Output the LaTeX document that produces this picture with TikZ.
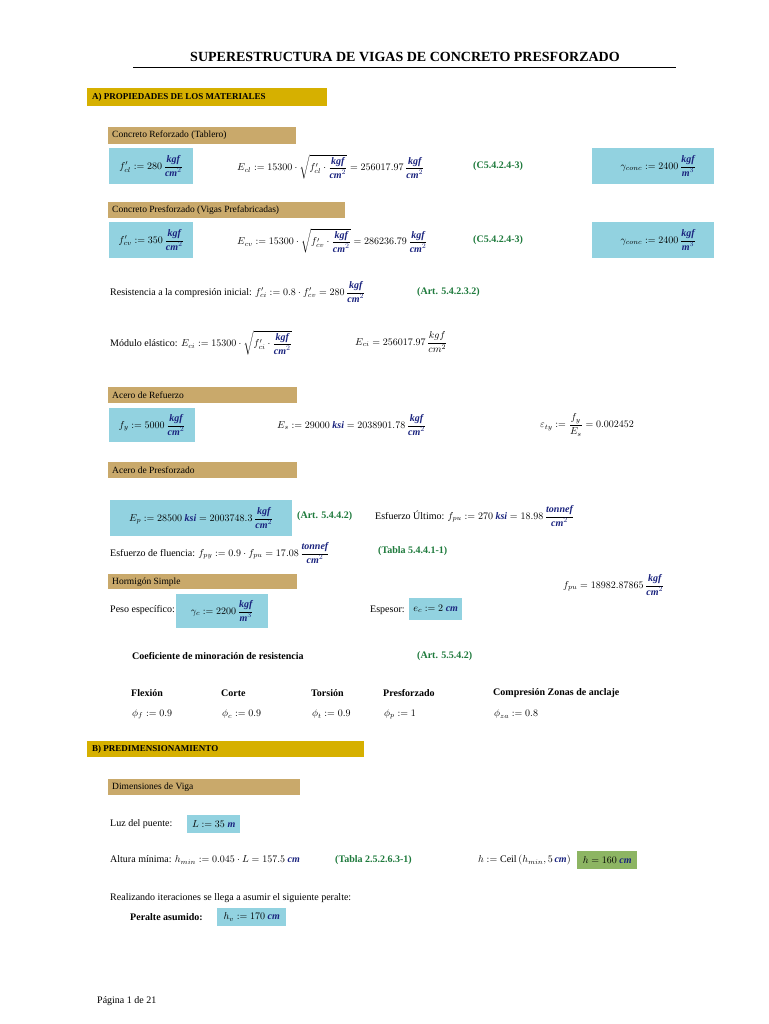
\documentclass[tikz,border=0pt]{standalone}
\usepackage{amsmath}
\usepackage{fontspec}
\setmainfont{Liberation Serif}
\definecolor{gold}{HTML}{D6B000}
\definecolor{tan}{HTML}{C9A96B}
\definecolor{bluebox}{HTML}{92D2E0}
\definecolor{greenbox}{HTML}{8DB563}
\definecolor{unitc}{HTML}{1A237E}
\definecolor{refc}{HTML}{1E7A3C}
\newcommand\un[1]{\text{\color{unitc}\bfseries\itshape #1}}
\newcommand\de{\mathrel{:=}}
\newcommand\fr[2]{\dfrac{\un{#1}}{\un{#2}}}
\newcommand\kc{\fr{kgf}{cm$^2$}}
\newcommand\km{\fr{kgf}{m$^3$}}
\newcommand\rf[1]{\textcolor{refc}{\bfseries #1}}
\begin{document}
\begin{tikzpicture}[x=1pt,y=-1pt,font=\fontsize{10}{12}\selectfont,
  txt/.style={anchor=west,inner sep=0pt},
  bb/.style={anchor=west,fill=bluebox,inner sep=2pt},
  gb/.style={anchor=west,fill=greenbox,inner sep=2pt}]
\useasboundingbox (0,0) rectangle (768,1024);
\fill[white] (0,0) rectangle (768,1024);
\node[inner sep=0pt,font=\fontsize{14}{16}\selectfont\bfseries] (title) at (405,57) {SUPERESTRUCTURA DE VIGAS DE CONCRETO PRESFORZADO};
\draw[line width=0.8pt] (133,67) -- (676,67);
% A
\fill[gold] (87,88) rectangle (327,106);
\node[txt,font=\fontsize{9}{10}\selectfont\bfseries] (A) at (92,97) {A) PROPIEDADES DE LOS MATERIALES};
\fill[tan] (108,127) rectangle (296,144);
\node[txt,font=\fontsize{9.5}{11}\selectfont] (s1) at (112,135) {Concreto Reforzado (Tablero)};
\node[bb,minimum width=84pt,minimum height=36pt] (fcl) at (109,166) {$f'_{cl}\de 280\,\kc$};
\node[txt] (Ecl) at (237,167) {$E_{cl}\de 15300\cdot\sqrt{f'_{cl}\cdot\kc}=256017.97\,\kc$};
\node[txt] (r1) at (473,166) {\rf{(C5.4.2.4-3)}};
\node[bb,minimum width=122pt,minimum height=36pt] (gc1) at (592,166) {\hspace*{10pt}$\gamma_{conc}\de 2400\,\km$};
\fill[tan] (108,202) rectangle (345,218);
\node[txt,font=\fontsize{9.5}{11}\selectfont] (s2) at (112,210) {Concreto Presforzado (Vigas Prefabricadas)};
\node[bb,minimum width=84pt,minimum height=36pt] (fcv) at (109,240) {$f'_{cv}\de 350\,\kc$};
\node[txt] (Ecv) at (237,241) {$E_{cv}\de 15300\cdot\sqrt{f'_{cv}\cdot\kc}=286236.79\,\kc$};
\node[txt] (r2) at (473,240) {\rf{(C5.4.2.4-3)}};
\node[bb,minimum width=122pt,minimum height=36pt] (gc2) at (592,240) {\hspace*{10pt}$\gamma_{conc}\de 2400\,\km$};
\node[txt] (res) at (110,292) {Resistencia a la compresión inicial: $f'_{ci}\de 0.8\cdot f'_{cv}=280\,\kc$};
\node[txt] (r3) at (417,292) {\rf{(Art. 5.4.2.3.2)}};
\node[txt] (mod) at (110,343) {Módulo elástico: $E_{ci}\de 15300\cdot\sqrt{f'_{ci}\cdot\kc}$};
\node[txt] (Eci) at (355,342) {$E_{ci}=256017.97\,\dfrac{kgf}{cm^2}$};
\fill[tan] (108,387) rectangle (297,403);
\node[txt,font=\fontsize{9.5}{11}\selectfont] (s3) at (112,395) {Acero de Refuerzo};
\node[bb,minimum width=86pt,minimum height=34pt] (fy) at (109,425) {$f_y\de 5000\,\kc$};
\node[txt] (Es) at (277,425) {$E_s\de 29000\ \un{ksi}=2038901.78\,\kc$};
\node[txt] (ety) at (540,425) {$\varepsilon_{ty}\de\dfrac{f_y}{E_s}=0.002452$};
\fill[tan] (108,462) rectangle (297,478);
\node[txt,font=\fontsize{9.5}{11}\selectfont] (s4) at (112,470) {Acero de Presforzado};
\node[bb,minimum width=182pt,minimum height=36pt] (Ep) at (110,518) {$E_p\de 28500\ \un{ksi}=2003748.3\,\kc$};
\node[txt] (r4) at (297,516) {\rf{(Art. 5.4.4.2)}};
\node[txt] (fpu) at (375,516) {Esfuerzo Último: $f_{pu}\de 270\ \un{ksi}=18.98\,\fr{tonnef}{cm$^2$}$};
\node[txt] (fpy) at (110,553) {Esfuerzo de fluencia: $f_{py}\de 0.9\cdot f_{pu}=17.08\,\fr{tonnef}{cm$^2$}$};
\node[txt] (r5) at (378,551) {\rf{(Tabla 5.4.4.1-1)}};
\fill[tan] (108,574) rectangle (297,589);
\node[txt,font=\fontsize{9.5}{11}\selectfont] (s5) at (112,582) {Hormigón Simple};
\node[txt] (fpu2) at (563,585) {$f_{pu}=18982.87865\,\kc$};
\node[txt] (pe) at (110,610) {Peso específico:};
\node[bb,minimum width=92pt,minimum height=34pt] (gc) at (176,611) {$\gamma_c\de 2200\,\km$};
\node[txt] (esp) at (370,610) {Espesor:};
\node[bb,minimum width=53pt,minimum height=22pt] (ec) at (409,609) {$e_c\de 2\ \un{cm}$};
\node[txt,font=\fontsize{10}{11}\selectfont\bfseries] (coef) at (132,656) {Coeficiente de minoración de resistencia};
\node[txt] (r6) at (417,656) {\rf{(Art. 5.5.4.2)}};
\foreach \x/\t/\m/\n in {131/Flexión/f/0.9, 221/Corte/c/0.9, 311/Torsión/t/0.9, 383/Presforzado/p/1, 493/Compresión Zonas de anclaje/{za}/0.8}{
  \node[txt,font=\fontsize{10}{11}\selectfont\bfseries] at (\x,693) {\t};
  \node[txt] at (\x+1,714) {$\phi_{\m}\de \n$};
}
% B
\fill[gold] (87,741) rectangle (364,757);
\node[txt,font=\fontsize{9}{10}\selectfont\bfseries] (B) at (92,749) {B) PREDIMENSIONAMIENTO};
\fill[tan] (108,779) rectangle (300,795);
\node[txt,font=\fontsize{9.5}{11}\selectfont] (s6) at (112,787) {Dimensiones de Viga};
\node[txt] (luz) at (110,824) {Luz del puente:};
\node[bb,minimum width=53pt,minimum height=18pt] (L) at (187,824) {$L\de 35\ \un{m}$};
\node[txt] (alt) at (110,860) {Altura mínima: $h_{min}\de 0.045\cdot L=157.5\ \un{cm}$};
\node[txt] (r7) at (335,860) {\rf{(Tabla 2.5.2.6.3-1)}};
\node[txt] (ceil) at (478,860) {$h\de \mathrm{Ceil}\left(h_{min},5\,\un{cm}\right)$};
\node[gb,minimum width=60pt,minimum height=18pt] (h) at (577,860) {$h=160\ \un{cm}$};
\node[txt] (real) at (110,898) {Realizando iteraciones se llega a asumir el siguiente peralte:};
\node[txt,font=\fontsize{10}{11}\selectfont\bfseries] (per) at (130,917) {Peralte asumido:};
\node[bb,minimum width=69pt,minimum height=18pt] (hv) at (217,917) {$h_v\de 170\ \un{cm}$};
\node[txt] (pag) at (97,1001) {Página 1 de 21};
\end{tikzpicture}
\end{document}
